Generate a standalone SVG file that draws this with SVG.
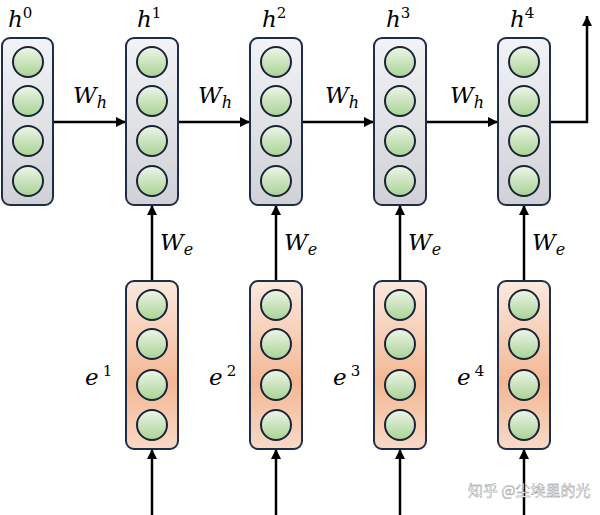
<svg xmlns="http://www.w3.org/2000/svg" width="600" height="515" viewBox="0 0 600 515">
<defs>
<linearGradient id="gh" x1="0" y1="0" x2="0" y2="1"><stop offset="0" stop-color="#f2f3f6"/><stop offset="1" stop-color="#cfd1d6"/></linearGradient>
<linearGradient id="ge" x1="0" y1="0" x2="0" y2="1"><stop offset="0" stop-color="#fbe9df"/><stop offset="0.6" stop-color="#f3b894"/><stop offset="1" stop-color="#f8d9c6"/></linearGradient>
<linearGradient id="gc" x1="0" y1="0" x2="0" y2="1"><stop offset="0" stop-color="#eef6e8"/><stop offset="1" stop-color="#a9d294"/></linearGradient>
<marker id="ar" viewBox="0 0 10 10" refX="10" refY="5" markerWidth="4" markerHeight="4" orient="auto"><path d="M0,0L10,5L0,10z" fill="#000"/></marker>
</defs>
<style>
.bh{fill:url(#gh);stroke:#1f2d4a;stroke-width:2}
.be{fill:url(#ge);stroke:#1f2d4a;stroke-width:2}
.c{fill:url(#gc);stroke:#1a2438;stroke-width:2}
.l{stroke:#000;stroke-width:2.5;fill:none}
text{font-family:"DejaVu Serif",serif;font-style:italic;font-size:23px}
.s{font-size:15px;font-style:normal}
.si{font-size:16px;font-style:italic}
</style>
<g id="connectors">
<line class="l" x1="53" y1="122" x2="126" y2="122" marker-end="url(#ar)"/>
<line class="l" x1="178" y1="122" x2="250" y2="122" marker-end="url(#ar)"/>
<line class="l" x1="302" y1="122" x2="374" y2="122" marker-end="url(#ar)"/>
<line class="l" x1="426" y1="122" x2="498" y2="122" marker-end="url(#ar)"/>
<polyline class="l" points="550,122 587,122 587,16" marker-end="url(#ar)"/>
<line class="l" x1="152" y1="281" x2="152" y2="205" marker-end="url(#ar)"/>
<line class="l" x1="276" y1="281" x2="276" y2="205" marker-end="url(#ar)"/>
<line class="l" x1="400" y1="281" x2="400" y2="205" marker-end="url(#ar)"/>
<line class="l" x1="524" y1="281" x2="524" y2="205" marker-end="url(#ar)"/>
<line class="l" x1="152" y1="515" x2="152" y2="449" marker-end="url(#ar)"/>
<line class="l" x1="276" y1="515" x2="276" y2="449" marker-end="url(#ar)"/>
<line class="l" x1="400" y1="515" x2="400" y2="449" marker-end="url(#ar)"/>
<line class="l" x1="524" y1="515" x2="524" y2="449" marker-end="url(#ar)"/>
</g>
<g id="h0"><rect class="bh" x="2" y="38" width="51" height="167" rx="8"/><circle class="c" cx="28" cy="62" r="15"/><circle class="c" cx="28" cy="101" r="15"/><circle class="c" cx="28" cy="141" r="15"/><circle class="c" cx="28" cy="181" r="15"/><text x="8" y="27">h<tspan class="s" dy="-9">0</tspan></text></g>
<g id="h1"><rect class="bh" x="126" y="38" width="52" height="167" rx="8"/><circle class="c" cx="152" cy="62" r="15"/><circle class="c" cx="152" cy="101" r="15"/><circle class="c" cx="152" cy="141" r="15"/><circle class="c" cx="152" cy="181" r="15"/><text x="137" y="27">h<tspan class="s" dy="-9">1</tspan></text></g>
<g id="h2"><rect class="bh" x="250" y="38" width="52" height="167" rx="8"/><circle class="c" cx="276" cy="62" r="15"/><circle class="c" cx="276" cy="101" r="15"/><circle class="c" cx="276" cy="141" r="15"/><circle class="c" cx="276" cy="181" r="15"/><text x="262" y="27">h<tspan class="s" dy="-9">2</tspan></text></g>
<g id="h3"><rect class="bh" x="374" y="38" width="52" height="167" rx="8"/><circle class="c" cx="400" cy="62" r="15"/><circle class="c" cx="400" cy="101" r="15"/><circle class="c" cx="400" cy="141" r="15"/><circle class="c" cx="400" cy="181" r="15"/><text x="386" y="27">h<tspan class="s" dy="-9">3</tspan></text></g>
<g id="h4"><rect class="bh" x="498" y="38" width="52" height="167" rx="8"/><circle class="c" cx="524" cy="62" r="15"/><circle class="c" cx="524" cy="101" r="15"/><circle class="c" cx="524" cy="141" r="15"/><circle class="c" cx="524" cy="181" r="15"/><text x="510" y="27">h<tspan class="s" dy="-9">4</tspan></text></g>
<g id="e1"><rect class="be" x="126" y="281" width="52" height="168" rx="8"/><circle class="c" cx="152" cy="305" r="15"/><circle class="c" cx="152" cy="344" r="15"/><circle class="c" cx="152" cy="385" r="15"/><circle class="c" cx="152" cy="425" r="15"/><text x="85" y="385">e<tspan class="s" dy="-9" dx="4">1</tspan></text></g>
<g id="e2"><rect class="be" x="250" y="281" width="52" height="168" rx="8"/><circle class="c" cx="276" cy="305" r="15"/><circle class="c" cx="276" cy="344" r="15"/><circle class="c" cx="276" cy="385" r="15"/><circle class="c" cx="276" cy="425" r="15"/><text x="209" y="385">e<tspan class="s" dy="-9" dx="4">2</tspan></text></g>
<g id="e3"><rect class="be" x="374" y="281" width="52" height="168" rx="8"/><circle class="c" cx="400" cy="305" r="15"/><circle class="c" cx="400" cy="344" r="15"/><circle class="c" cx="400" cy="385" r="15"/><circle class="c" cx="400" cy="425" r="15"/><text x="333" y="385">e<tspan class="s" dy="-9" dx="4">3</tspan></text></g>
<g id="e4"><rect class="be" x="498" y="281" width="52" height="168" rx="8"/><circle class="c" cx="524" cy="305" r="15"/><circle class="c" cx="524" cy="344" r="15"/><circle class="c" cx="524" cy="385" r="15"/><circle class="c" cx="524" cy="425" r="15"/><text x="457" y="385">e<tspan class="s" dy="-9" dx="4">4</tspan></text></g>
<g id="labels">
<text x="73" y="103">W<tspan class="si" dy="5">h</tspan></text>
<text x="198" y="103">W<tspan class="si" dy="5">h</tspan></text>
<text x="325" y="103">W<tspan class="si" dy="5">h</tspan></text>
<text x="450" y="103">W<tspan class="si" dy="5">h</tspan></text>
<text x="160" y="250">W<tspan class="si" dy="5">e</tspan></text>
<text x="284" y="250">W<tspan class="si" dy="5">e</tspan></text>
<text x="408" y="250">W<tspan class="si" dy="5">e</tspan></text>
<text x="532" y="250">W<tspan class="si" dy="5">e</tspan></text>
<text x="468" y="496" style="font-family:'Noto Sans CJK SC',sans-serif;font-style:normal;font-size:15px;fill:#fff;stroke:#888;stroke-width:0.4">知乎 @尘埃里的光</text>
</g>
</svg>
